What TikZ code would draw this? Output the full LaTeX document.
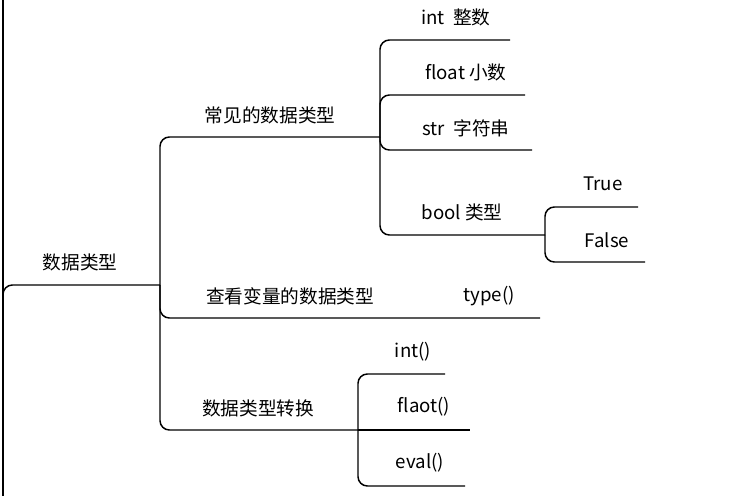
\documentclass[tikz,border=0pt]{standalone}
\usepackage{fontspec}
\setmainfont{Noto Sans CJK SC}
\begin{document}
\begin{tikzpicture}[x=0.75pt,y=-0.75pt,
  ln/.style={line width=1.1pt,rounded corners=7pt},
  lbl/.style={font=\fontsize{14}{16}\selectfont,inner sep=0pt}]
\useasboundingbox (0,0) rectangle (733,496);
% text nodes
\node[lbl] (root) at (80,262) {数据类型};
\node[lbl] (b1) at (270,115) {常见的数据类型};
\node[lbl] (b2) at (290,296) {查看变量的数据类型};
\node[lbl] (ty) at (489,296) {type()};
\node[lbl] (b3) at (258,408) {数据类型转换};
\node[lbl] (c1) at (456,17) {int\ \ 整数};
\node[lbl] (c2) at (466,72) {float 小数};
\node[lbl] (c3) at (466,128) {str\ \ 字符串};
\node[lbl] (c4) at (462,212) {bool 类型};
\node[lbl] (t) at (603,184) {True};
\node[lbl] (f) at (607,240) {False};
\node[lbl] (d1) at (413,352) {int()};
\node[lbl] (d2) at (424,407) {flaot()};
\node[lbl] (d3) at (420,463) {eval()};
% junctions
\coordinate (jr) at (160,285);
\coordinate (j1) at (380,137);
\coordinate (j3) at (358,430);
\coordinate (jb) at (545,235);
% lines
\draw[ln] (3,0) -- (3,496);
\draw[ln] (3,300) |- (jr);
\draw[ln] (jr) |- (j1);
\draw[ln] (jr) |- (540,318);
\draw[ln] (jr) |- (j3);
\draw[ln] (j1) |- (510,40);
\draw[ln] (j1) |- (525,95);
\draw[ln] (j1) |- (532,150);
\draw[ln] (j1) |- (jb);
\draw[ln] (jb) |- (638,207);
\draw[ln] (jb) |- (645,262);
\draw[ln] (j3) |- (445,374);
\draw[ln] (j3) -- (470,430);
\draw[ln] (j3) |- (465,486);
\end{tikzpicture}
\end{document}
